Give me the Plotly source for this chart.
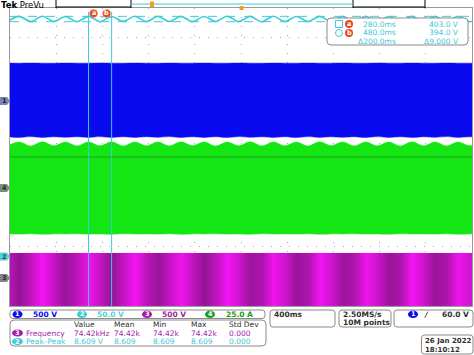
import plotly.graph_objects as go

W, H = 474, 355

# ---------------- data ----------------
# horizontal: 400 ms/div, 10 div
T_RANGE = [-400, 3600]
# vertical: 10 div
V_RANGE = [-5, 5]

CH_SCALE = {1: 500.0, 2: 50.0, 3: 500.0, 4: 25.0}       # units / div
CH_GND = {1: 1.88, 2: -3.34, 3: -4.06, 4: -1.04}        # ground marker (div)

# sample times (ms), half ripple period spacing
t_ms = list(range(-420, 3700, 100))

ch2_volts = [394.3, 402.9, 394.1, 403.2, 394.4, 402.8, 394.0, 403.0, 394.0, 402.7,
             394.5, 403.1, 394.2, 402.9, 394.3, 403.0, 394.1, 402.8, 394.4, 403.2,
             394.2, 402.9, 394.0, 403.1, 394.3, 402.8, 394.2, 403.0, 394.4, 402.9,
             394.1, 403.1, 394.3, 402.7, 394.2, 403.0, 394.0, 402.9, 394.3, 403.1,
             394.2, 402.8]

ch1_top_v = [636, 634, 636, 635, 633, 636, 635, 634, 636, 635,
             634, 636, 635, 633, 636, 635, 634, 636, 635, 634,
             636, 635, 633, 636, 635, 634, 636, 635, 634, 636,
             635, 633, 636, 635, 634, 636, 635, 634, 636, 635,
             634, 636]
ch1_bot_v = [-599, -611, -598, -612, -600, -610, -599, -611, -598, -612,
             -600, -611, -599, -610, -598, -612, -600, -611, -599, -612,
             -598, -610, -600, -611, -599, -612, -598, -611, -600, -610,
             -599, -612, -598, -611, -600, -612, -599, -610, -598, -611,
             -600, -611]

ch4_top_a = [35.4, 38.6, 35.2, 38.7, 35.5, 38.5, 35.3, 38.6, 35.4, 38.7,
             35.2, 38.5, 35.4, 38.6, 35.3, 38.7, 35.5, 38.6, 35.2, 38.5,
             35.4, 38.7, 35.3, 38.6, 35.4, 38.5, 35.2, 38.7, 35.5, 38.6,
             35.3, 38.6, 35.4, 38.5, 35.2, 38.7, 35.4, 38.6, 35.3, 38.5,
             35.4, 38.6]
ch4_bot_a = [-38.5, -38.7, -38.4, -38.8, -38.5, -38.6, -38.4, -38.7, -38.5, -38.8,
             -38.4, -38.6, -38.5, -38.7, -38.4, -38.8, -38.5, -38.6, -38.4, -38.7,
             -38.5, -38.8, -38.4, -38.6, -38.5, -38.7, -38.4, -38.8, -38.5, -38.6,
             -38.4, -38.7, -38.5, -38.8, -38.4, -38.6, -38.5, -38.7, -38.4, -38.8,
             -38.5, -38.6]

ch3_top_v = 420.0
ch3_bot_v = -700.0
# relative brightness of the ch3 envelope (0 dark .. 1 bright)
ch3_bright = [0.45, 0.05, 0.5, 0.95, 0.5, 0.1, 0.45, 0.9, 0.5, 0.05,
              0.5, 0.95, 0.45, 0.1, 0.5, 0.9, 0.5, 0.05, 0.45, 0.95,
              0.6, 0.15, 0.3, 0.9, 0.6, 0.1, 0.3, 0.95, 0.6, 0.15,
              0.3, 0.9, 0.6, 0.1, 0.3, 0.95, 0.6, 0.1, 0.3, 0.9,
              0.6, 0.1]

CURSOR_T = [280.0, 480.0]
CURSOR_V = [403.0, 394.0]

scale_labels = ["500 V", "50.0 V", "500 V", "25.0 A"]
meas_header = ["Value", "Mean", "Min", "Max", "Std Dev"]
meas_freq = ["74.42kHz", "74.42k", "74.42k", "74.42k", "0.000"]
meas_pp = ["8.609 V", "8.609", "8.609", "8.609", "0.000"]

# ---------------- helpers ----------------
def to_div(ch, v):
    return CH_GND[ch] + v / CH_SCALE[ch]

def px(x):
    return x / W

def py(y):
    return 1 - y / H

def rrect(x0, y0, x1, y1, r=3):
    return (f"M {px(x0+r)},{py(y0)} L {px(x1-r)},{py(y0)} Q {px(x1)},{py(y0)} {px(x1)},{py(y0+r)} "
            f"L {px(x1)},{py(y1-r)} Q {px(x1)},{py(y1)} {px(x1-r)},{py(y1)} "
            f"L {px(x0+r)},{py(y1)} Q {px(x0)},{py(y1)} {px(x0)},{py(y1-r)} "
            f"L {px(x0)},{py(y0+r)} Q {px(x0)},{py(y0)} {px(x0+r)},{py(y0)} Z")

BLUE = "#0a0af0"
CYAN = "#3cccd8"
CYAN_T = "#40c8d4"
MAG = "#a41ca8"
GREEN = "#18a018"
DARK = "#303030"
FONT = "DejaVu Sans"

annos = []
shapes = []

def txt(x, y, s, color, size=7.5, anchor="left", bold=False):
    annos.append(dict(x=px(x), y=py(y), xref="paper", yref="paper", xanchor=anchor, yanchor="middle",
                      text=f"<b>{s}</b>" if bold else s, showarrow=False, borderpad=0,
                      font=dict(size=size, color=color, family=FONT)))

def badge(xc, yc, num, color, w=10, h=7.5):
    shapes.append(dict(type="circle", xref="paper", yref="paper", x0=px(xc - w / 2), x1=px(xc + w / 2),
                       y0=py(yc + h / 2), y1=py(yc - h / 2), fillcolor=color, line=dict(width=0), layer="above"))
    txt(xc, yc, num, "white", size=6.5, anchor="center", bold=True)

fig = go.Figure()

# ch1 band
fig.add_trace(go.Scatter(x=t_ms, y=[to_div(1, v) for v in ch1_bot_v], mode="lines",
                         line=dict(color=BLUE, width=0.5, shape="spline"), hoverinfo="skip"))
fig.add_trace(go.Scatter(x=t_ms, y=[to_div(1, v) for v in ch1_top_v], mode="lines", fill="tonexty",
                         fillcolor=BLUE, line=dict(color=BLUE, width=0.5, shape="spline"), hoverinfo="skip"))
# ch4 band
fig.add_trace(go.Scatter(x=t_ms, y=[to_div(4, v) for v in ch4_bot_a], mode="lines",
                         line=dict(color="#14e614", width=0.5, shape="spline"), hoverinfo="skip"))
fig.add_trace(go.Scatter(x=t_ms, y=[to_div(4, v) for v in ch4_top_a], mode="lines", fill="tonexty",
                         fillcolor="#14e614", line=dict(color="#14e614", width=0.5, shape="spline"), hoverinfo="skip"))
# ch3 band (heatmap for intensity banding)
y3_top = to_div(3, ch3_top_v)
y3_bot = to_div(3, ch3_bot_v)
fig.add_trace(go.Heatmap(x=t_ms, y=[y3_bot, (y3_bot + y3_top) / 2, y3_top],
                         z=[ch3_bright, ch3_bright], zmin=0, zmax=1, zsmooth="best",
                         colorscale=[[0, "#8e148e"], [1, "#f814f8"]], showscale=False, hoverinfo="skip"))
# ch2 ripple
fig.add_trace(go.Scatter(x=t_ms, y=[to_div(2, v) for v in ch2_volts], mode="lines",
                         line=dict(color=CYAN, width=1.6, shape="spline"), hoverinfo="skip"))

# center crosshair line (horizontal)
shapes.append(dict(type="line", xref="x", yref="y", x0=T_RANGE[0], x1=T_RANGE[1], y0=0, y1=0,
                   line=dict(color="rgba(40,70,40,0.45)", width=1), layer="above"))

# horizontal cursor dashed lines
for v in CURSOR_V:
    shapes.append(dict(type="line", xref="x", yref="y", x0=T_RANGE[0], x1=T_RANGE[1],
                       y0=to_div(2, v), y1=to_div(2, v), line=dict(color=CYAN, width=1, dash="dash"), layer="above"))
# vertical cursors
for t in CURSOR_T:
    shapes.append(dict(type="line", xref="x", yref="paper", x0=t, x1=t, y0=py(307), y1=py(12),
                       line=dict(color=CYAN, width=1), layer="above"))
# cursor letter badges
for t, dx, lab in [(CURSOR_T[0], 5, "a"), (CURSOR_T[1], -5, "b")]:
    shapes.append(dict(type="circle", xref="x", yref="paper", xsizemode="pixel", ysizemode="pixel",
                       xanchor=t, yanchor=py(13.5), x0=dx - 4, x1=dx + 4, y0=-4, y1=4,
                       fillcolor="#e8461e", line=dict(color="#f0a080", width=0.5), layer="above"))
    annos.append(dict(x=t, y=py(13.5), xref="x", yref="paper", xshift=dx, xanchor="center", yanchor="middle",
                      text=f"<b>{lab}</b>", showarrow=False, borderpad=0,
                      font=dict(size=6.5, color="white", family=FONT)))

# cursor readout box
shapes.append(dict(type="path", xref="paper", yref="paper", path=rrect(327, 18, 468, 45, 4),
                   fillcolor="white", line=dict(color="#8a8a8a", width=1), layer="above"))
shapes.append(dict(type="rect", xref="paper", yref="paper", x0=px(335.5), x1=px(342.5), y0=py(27.5), y1=py(20.5),
                   line=dict(color=CYAN, width=1), layer="above"))
shapes.append(dict(type="circle", xref="paper", yref="paper", x0=px(335.5), x1=px(342.5), y0=py(36.5), y1=py(29.5),
                   line=dict(color=CYAN, width=1), layer="above"))
badge(349, 24, "a", "#e8461e", w=8, h=8)
badge(349, 33, "b", "#e8461e", w=8, h=8)
cur_rows = [(24, f"{CURSOR_T[0]:.1f}ms", f"{CURSOR_V[0]:.1f} V"),
            (33, f"{CURSOR_T[1]:.1f}ms", f"{CURSOR_V[1]:.1f} V"),
            (41.5, f"Δ{CURSOR_T[1]-CURSOR_T[0]:.1f}ms", f"Δ{CURSOR_V[0]-CURSOR_V[1]:.3f} V")]
for yy, a, b in cur_rows:
    txt(397, yy, a, CYAN_T, anchor="right")
    txt(460, yy, b, CYAN_T, anchor="right")

# header: Tek PreVu + record view
txt(0, 4.6, "<b>Tek</b> PreVu", "black", size=8.5)
for (xa, xb) in [(56, 131), (353, 425)]:
    shapes.append(dict(type="line", xref="paper", yref="paper", x0=px(xa), x1=px(xb), y0=py(7), y1=py(7),
                       line=dict(color="black", width=1)))
for xv in [56, 131, 353, 425]:
    shapes.append(dict(type="line", xref="paper", yref="paper", x0=px(xv), x1=px(xv), y0=py(8), y1=py(0),
                       line=dict(color="black", width=1)))
shapes.append(dict(type="line", xref="paper", yref="paper", x0=px(131), x1=px(353), y0=py(4), y1=py(4),
                   line=dict(color=CYAN, width=1)))
shapes.append(dict(type="rect", xref="paper", yref="paper", x0=px(150), x1=px(154), y0=py(7), y1=py(1.5),
                   fillcolor="#f0a020", line=dict(width=0)))
shapes.append(dict(type="rect", xref="paper", yref="paper", x0=px(239.5), x1=px(243.5), y0=py(10), y1=py(6),
                   fillcolor="#f0a020", line=dict(width=0), layer="above"))

# left channel ground markers (arrow-shaped tags)
for ch, bg, fc in [(1, "#7c84a8", "#101060"), (4, "#808a80", "#104010"), (2, "#58d0dc", "#1a4a58"), (3, "#84808a", "#401040")]:
    yc = CH_GND[ch]
    shapes.append(dict(type="path", xref="paper", yref="y", ysizemode="pixel", yanchor=yc,
                       path=(f"M {px(0)},-4 L {px(7)},-4 L {px(10)},0 L {px(7)},4 L {px(0)},4 Z"),
                       fillcolor=bg, line=dict(width=0), layer="above"))
    annos.append(dict(x=px(4.5), y=yc, xref="paper", yref="y", xanchor="center", yanchor="middle",
                      text=f"<b>{ch}</b>", showarrow=False, borderpad=0,
                      font=dict(size=6.5, color=fc, family=FONT)))

# bottom: channel scale box
shapes.append(dict(type="path", xref="paper", yref="paper", path=rrect(10, 310, 265, 318.5, 3),
                   fillcolor="white", line=dict(color="#8a8a8a", width=1)))
ch_cols = [BLUE, CYAN, MAG, GREEN]
badge_x = [17.5, 82, 147, 210]
text_x = [32, 96, 161, 225]
for i in range(4):
    badge(badge_x[i], 314.3, str(i + 1), ch_cols[i])
    txt(text_x[i], 314.3, scale_labels[i], ch_cols[i] if i != 1 else "#58cfd9", bold=True)

# measurement box
shapes.append(dict(type="path", xref="paper", yref="paper", path=rrect(10, 320, 266, 346, 4),
                   fillcolor="white", line=dict(color="#8a8a8a", width=1)))
col_x = [73, 113, 152, 190, 228]
for i in range(5):
    txt(col_x[i], 324.5, meas_header[i], DARK)
    txt(col_x[i], 333, meas_freq[i], MAG)
    txt(col_x[i], 341.5, meas_pp[i], CYAN_T)
badge(17.5, 333, "3", MAG, w=11, h=7)
badge(17.5, 341.5, "2", CYAN, w=11, h=7)
txt(25, 333, "Frequency", MAG)
txt(25, 341.5, "Peak–Peak", CYAN_T)

# timebase / sample rate / trigger boxes
for (x0, x1) in [(270, 335), (339, 391), (394, 473)]:
    shapes.append(dict(type="path", xref="paper", yref="paper", path=rrect(x0, 310, x1, 327, 3),
                       fillcolor="white", line=dict(color="#8a8a8a", width=1)))
txt(273, 314, "400ms", DARK, bold=True)
txt(342, 314, "2.50MS/s", DARK, bold=True)
txt(342, 322.5, "10M points", DARK, bold=True)
badge(413, 314.3, "1", BLUE)
txt(426, 314.3, "<i>/</i>", DARK, anchor="center", bold=True)
txt(470, 314.3, "60.0 V", DARK, anchor="right", bold=True)
# date box
shapes.append(dict(type="path", xref="paper", yref="paper", path=rrect(421.5, 335, 473, 354, 3),
                   fillcolor="white", line=dict(color="#8a8a8a", width=1)))
txt(423.5, 341, "26 Jan 2022", DARK, size=7, bold=True)
txt(423.5, 349.5, "18:10:12", DARK, size=7, bold=True)

fig.update_layout(
    width=W, height=H, margin=dict(l=0, r=0, t=0, b=0),
    paper_bgcolor="white", plot_bgcolor="white", showlegend=False,
    shapes=shapes, annotations=annos,
    xaxis=dict(domain=[px(10), px(472)], range=T_RANGE, tick0=T_RANGE[0], dtick=400,
               showgrid=True, gridcolor="#a8a8a8", griddash="1px,8px", gridwidth=1, zeroline=False,
               showticklabels=False, ticks="", showline=True, linecolor="#9a9a9a", mirror=True, fixedrange=True),
    yaxis=dict(domain=[py(306), py(8)], range=V_RANGE, dtick=1, tick0=-5,
               showgrid=True, gridcolor="#a8a8a8", griddash="1px,8px", gridwidth=1, zeroline=False,
               showticklabels=False, ticks="", showline=True, linecolor="#9a9a9a", mirror=True, fixedrange=True),
)

fig.write_html("out.html")
